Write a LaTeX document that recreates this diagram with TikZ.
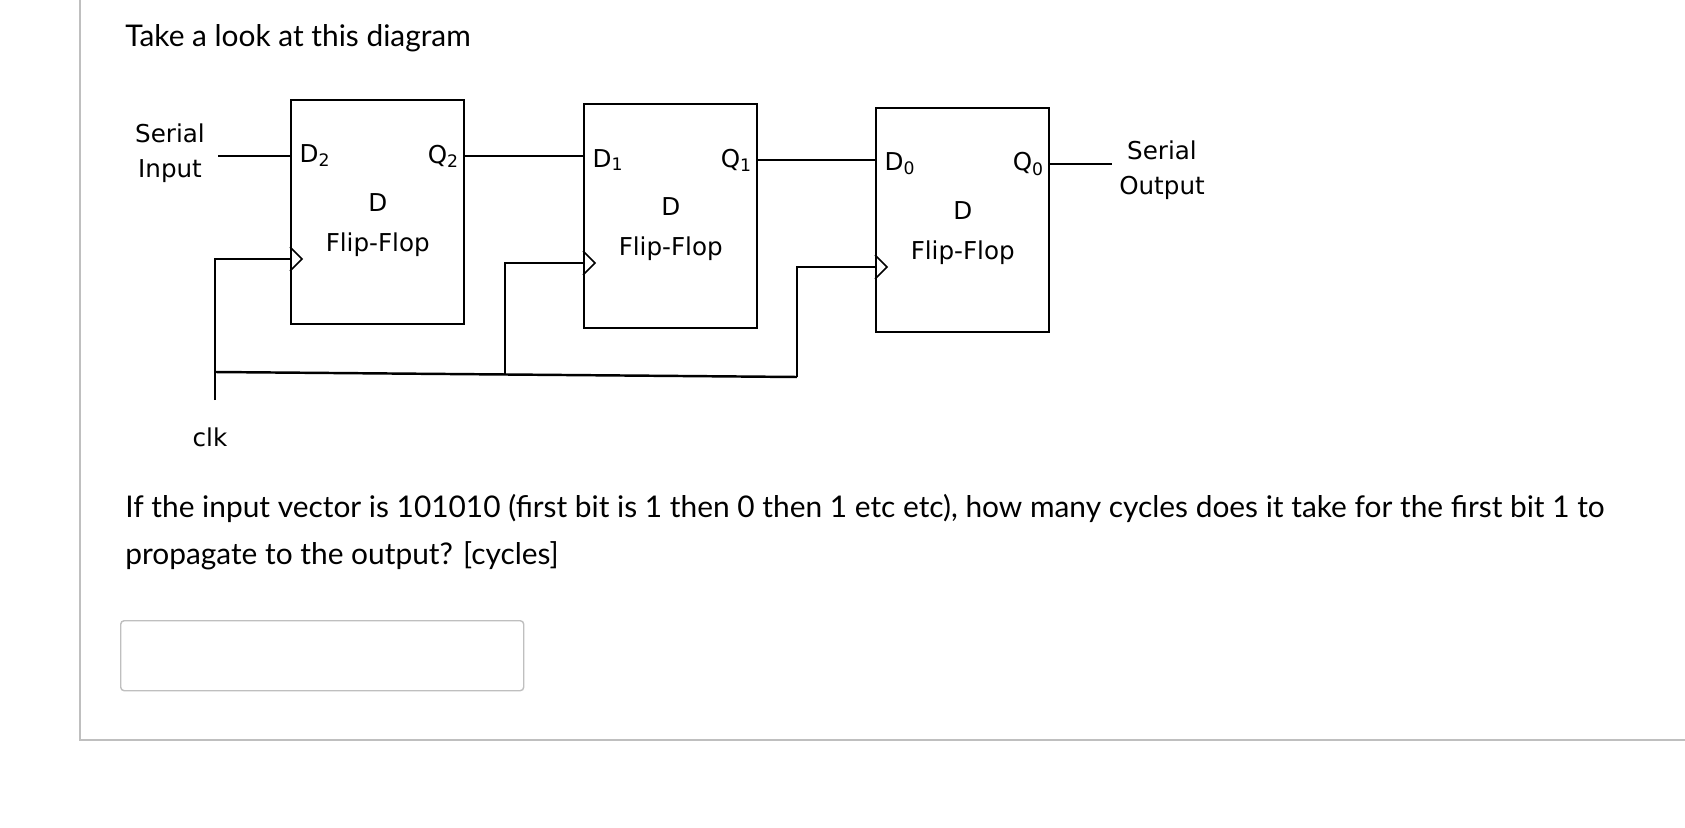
\documentclass[tikz,border=0pt]{standalone}
\usepackage{fontspec}
\setmainfont{Lato}
\newfontfamily\dvfont{DejaVu Sans}
\begin{document}
\begin{tikzpicture}[x=0.02cm,y=-0.02cm,
  ff/.style={draw,line width=1.4pt,minimum width=173*0.02cm,minimum height=224*0.02cm,inner sep=0},
  lbl/.style={font=\dvfont\fontsize{14}{18}\selectfont,inner sep=0},
  txt/.style={font=\fontsize{17}{21}\selectfont,inner sep=0,anchor=west},
  w/.style={line width=1.4pt}]
\useasboundingbox (0,0) rectangle (1685,828);
\fill[white] (0,0) rectangle (1685,828);
\draw[gray!50,line width=0.8pt] (80,0) -- (80,740) -- (1685,740);
\node[txt] (title) at (125,38) {Take a look at this diagram};
% flip-flops
\node[ff,anchor=north west] (f2) at (290,99) {};
\node[ff,anchor=north west] (f1) at (583,103) {};
\node[ff,anchor=north west] (f0) at (875,107) {};
\foreach \f/\i in {f2/2,f1/1,f0/0}{
  \node[lbl] (d\i) at ([xshift=25*0.02cm,yshift=-57*0.02cm]\f.north west) {D\textsubscript{\i}};
  \node[lbl] (q\i) at ([xshift=-22*0.02cm,yshift=-57*0.02cm]\f.north east) {Q\textsubscript{\i}};
  \node[lbl] (n\i) at ([yshift=-104*0.02cm]\f.north) {D};
  \node[lbl] (t\i) at ([yshift=-146*0.02cm]\f.north) {Flip-Flop};
  \coordinate (c\i) at ([yshift=-160*0.02cm]\f.north west);
  \draw[line width=1pt] ([yshift=-12*0.02cm]c\i) -- ([xshift=12*0.02cm]c\i) -- ([yshift=12*0.02cm]c\i);
}
\node[lbl,align=center] (sin) at (170,153) {Serial\\[2pt]Input};
\node[lbl,align=center] (sout) at (1162,170) {Serial\\[2pt]Output};
\node[lbl] (clk) at (210,437) {clk};
\coordinate (inl) at (218,156);
\draw[w] (inl) -- (f2.west |- inl);
\draw[w] (f2.east |- q2) -- (f1.west |- q2);
\draw[w] (f1.east |- q1) -- (f0.west |- q1);
\draw[w] (f0.east |- q0) -- (1112,0 |- q0);
% clock
\coordinate (cb) at (215,400);
\draw[w] (cb) -- (215,0 |- c2) -- (c2);
\draw[w] (215,372) -- (797,377);
\draw[w] (505,375) -- (505,0 |- c1) -- (c1);
\draw[w] (797,377) -- (797,0 |- c0) -- (c0);
\node[txt] (qa) at (125,508) {If the input vector is 101010 (first bit is 1 then 0 then 1 etc etc), how many cycles does it take for the first bit 1 to};
\node[txt] (qb) at (125,556) {propagate to the output? [cycles]};
\node[draw=gray!50,rounded corners=2pt,line width=0.8pt,minimum width=403*0.02cm,minimum height=70*0.02cm,anchor=north west] (ans) at (120,620) {};
\end{tikzpicture}
\end{document}
